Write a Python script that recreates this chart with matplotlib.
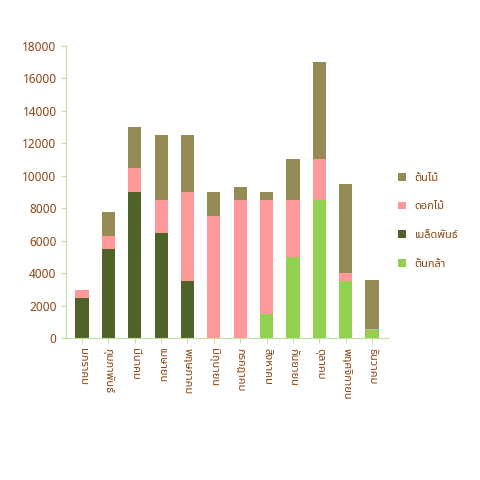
import matplotlib.pyplot as plt
import numpy as np

plt.rcParams['font.family'] = ['Noto Sans Thai', 'Noto Sans', 'DejaVu Sans']

months = ['มกราคม', 'กุมภาพันธ์', 'มีนาคม', 'เมษายน', 'พฤษภาคม', 'มิถุนายน',
          'กรกฎาคม', 'สิงหาคม', 'กันยายน', 'ตุลาคม', 'พฤศจิกายน', 'ธันวาคม']
seed = [2500, 5500, 9000, 6500, 3500, 0, 0, 0, 0, 0, 0, 0]
seedling = [0, 0, 0, 0, 0, 0, 0, 1500, 5000, 8500, 3500, 500]
flower = [500, 800, 1500, 2000, 5500, 7500, 8500, 7000, 3500, 2500, 500, 100]
tree = [0, 1450, 2500, 4000, 3500, 1500, 800, 500, 2500, 6000, 5500, 3000]

brown = '#8B4513'
fig = plt.figure(figsize=(4.8, 4.8), dpi=100)
ax = fig.add_axes([0.138, 0.295, 0.67, 0.61])
x = np.arange(len(months))
w = 0.5
b1 = ax.bar(x, seed, w, color='#4F6228', label='เมล็ดพันธ์')
b2 = ax.bar(x, seedling, w, bottom=seed, color='#92D050', label='ต้นกล้า')
base = np.array(seed) + np.array(seedling)
b3 = ax.bar(x, flower, w, bottom=base, color='#FF9999', label='ดอกไม้')
b4 = ax.bar(x, tree, w, bottom=base + np.array(flower), color='#948A54', label='ต้นไม้')

ax.set_ylim(0, 18000)
ax.set_yticks(range(0, 18001, 2000))
ax.set_xlim(-0.6, 11.6)
ax.set_xticks(x)
ax.set_xticklabels(months, rotation=-90, color=brown, fontsize=8, fontweight='bold')
for t in ax.get_yticklabels():
    t.set_color(brown)
    t.set_fontweight('bold')
    t.set_fontsize(8.5)
for s in ['top', 'right']:
    ax.spines[s].set_visible(False)
for s in ['left', 'bottom']:
    ax.spines[s].set_color('#C4E0A0')
ax.tick_params(colors='#C4E0A0', labelcolor=brown)

ax.legend([b4, b3, b1, b2], ['ต้นไม้', 'ดอกไม้', 'เมล็ดพันธ์', 'ต้นกล้า'],
          loc='center left', bbox_to_anchor=(1.0, 0.4), frameon=False,
          labelcolor=brown, prop={'size': 8, 'weight': 'bold'},
          handlelength=0.7, handleheight=0.7, labelspacing=1.6)

fig.savefig('out.png', dpi=100)
